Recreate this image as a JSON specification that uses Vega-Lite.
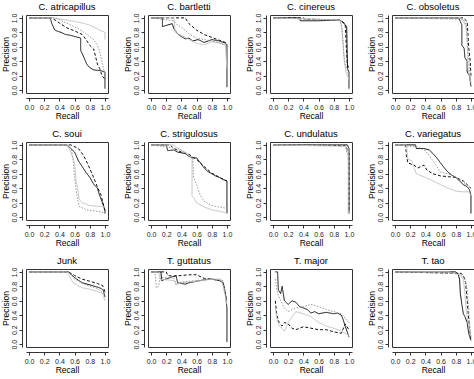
{
"$schema": "https://vega.github.io/schema/vega-lite/v6.json",
"padding": {"left": 0, "top": 1, "right": 0, "bottom": 0},
"background": "white",
"data": {"values": [
{"p":"C. atricapillus","s":"k2","r":0,"y":1},{"p":"C. atricapillus","s":"k2","r":0.28,"y":1},{"p":"C. atricapillus","s":"k2","r":0.3,"y":0.92},{"p":"C. atricapillus","s":"k2","r":0.34,"y":0.83},{"p":"C. atricapillus","s":"k2","r":0.39,"y":0.81},{"p":"C. atricapillus","s":"k2","r":0.42,"y":0.8},{"p":"C. atricapillus","s":"k2","r":0.48,"y":0.77},{"p":"C. atricapillus","s":"k2","r":0.54,"y":0.76},{"p":"C. atricapillus","s":"k2","r":0.61,"y":0.74},{"p":"C. atricapillus","s":"k2","r":0.68,"y":0.72},{"p":"C. atricapillus","s":"k2","r":0.68,"y":0.55},{"p":"C. atricapillus","s":"k2","r":0.72,"y":0.46},{"p":"C. atricapillus","s":"k2","r":0.76,"y":0.36},{"p":"C. atricapillus","s":"k2","r":0.79,"y":0.32},{"p":"C. atricapillus","s":"k2","r":0.85,"y":0.28},{"p":"C. atricapillus","s":"k2","r":0.94,"y":0.27},{"p":"C. atricapillus","s":"k2","r":1,"y":0.25},{"p":"C. atricapillus","s":"k2","r":1,"y":0.02},
{"p":"C. atricapillus","s":"k1","r":0,"y":1},{"p":"C. atricapillus","s":"k1","r":0.3,"y":1},{"p":"C. atricapillus","s":"k1","r":0.4,"y":0.93},{"p":"C. atricapillus","s":"k1","r":0.5,"y":0.86},{"p":"C. atricapillus","s":"k1","r":0.6,"y":0.82},{"p":"C. atricapillus","s":"k1","r":0.7,"y":0.77},{"p":"C. atricapillus","s":"k1","r":0.75,"y":0.7},{"p":"C. atricapillus","s":"k1","r":0.8,"y":0.62},{"p":"C. atricapillus","s":"k1","r":0.85,"y":0.57},{"p":"C. atricapillus","s":"k1","r":0.88,"y":0.45},{"p":"C. atricapillus","s":"k1","r":0.9,"y":0.36},{"p":"C. atricapillus","s":"k1","r":0.93,"y":0.3},{"p":"C. atricapillus","s":"k1","r":0.96,"y":0.2},{"p":"C. atricapillus","s":"k1","r":1,"y":0.15},
{"p":"C. atricapillus","s":"g1","r":0,"y":1},{"p":"C. atricapillus","s":"g1","r":0.3,"y":1},{"p":"C. atricapillus","s":"g1","r":0.5,"y":0.97},{"p":"C. atricapillus","s":"g1","r":0.6,"y":0.95},{"p":"C. atricapillus","s":"g1","r":0.7,"y":0.93},{"p":"C. atricapillus","s":"g1","r":0.8,"y":0.9},{"p":"C. atricapillus","s":"g1","r":0.9,"y":0.85},{"p":"C. atricapillus","s":"g1","r":0.95,"y":0.82},{"p":"C. atricapillus","s":"g1","r":1,"y":0.8},{"p":"C. atricapillus","s":"g1","r":1,"y":0.7},
{"p":"C. atricapillus","s":"g2","r":0,"y":1},{"p":"C. atricapillus","s":"g2","r":0.35,"y":1},{"p":"C. atricapillus","s":"g2","r":0.45,"y":0.95},{"p":"C. atricapillus","s":"g2","r":0.55,"y":0.9},{"p":"C. atricapillus","s":"g2","r":0.65,"y":0.85},{"p":"C. atricapillus","s":"g2","r":0.72,"y":0.8},{"p":"C. atricapillus","s":"g2","r":0.8,"y":0.74},{"p":"C. atricapillus","s":"g2","r":0.85,"y":0.7},{"p":"C. atricapillus","s":"g2","r":0.9,"y":0.62},{"p":"C. atricapillus","s":"g2","r":0.94,"y":0.5},{"p":"C. atricapillus","s":"g2","r":0.97,"y":0.35},{"p":"C. atricapillus","s":"g2","r":1,"y":0.2},

{"p":"C. bartletti","s":"k2","r":0,"y":1},{"p":"C. bartletti","s":"k2","r":0.15,"y":1},{"p":"C. bartletti","s":"k2","r":0.15,"y":0.88},{"p":"C. bartletti","s":"k2","r":0.28,"y":0.92},{"p":"C. bartletti","s":"k2","r":0.3,"y":0.85},{"p":"C. bartletti","s":"k2","r":0.35,"y":0.78},{"p":"C. bartletti","s":"k2","r":0.4,"y":0.74},{"p":"C. bartletti","s":"k2","r":0.45,"y":0.71},{"p":"C. bartletti","s":"k2","r":0.5,"y":0.72},{"p":"C. bartletti","s":"k2","r":0.55,"y":0.68},{"p":"C. bartletti","s":"k2","r":0.62,"y":0.7},{"p":"C. bartletti","s":"k2","r":0.7,"y":0.66},{"p":"C. bartletti","s":"k2","r":0.8,"y":0.7},{"p":"C. bartletti","s":"k2","r":0.9,"y":0.68},{"p":"C. bartletti","s":"k2","r":0.98,"y":0.65},{"p":"C. bartletti","s":"k2","r":1,"y":0.63},{"p":"C. bartletti","s":"k2","r":1,"y":0.04},
{"p":"C. bartletti","s":"k1","r":0,"y":1},{"p":"C. bartletti","s":"k1","r":0.45,"y":1},{"p":"C. bartletti","s":"k1","r":0.5,"y":0.92},{"p":"C. bartletti","s":"k1","r":0.6,"y":0.83},{"p":"C. bartletti","s":"k1","r":0.7,"y":0.77},{"p":"C. bartletti","s":"k1","r":0.8,"y":0.73},{"p":"C. bartletti","s":"k1","r":0.9,"y":0.69},{"p":"C. bartletti","s":"k1","r":0.98,"y":0.66},{"p":"C. bartletti","s":"k1","r":1,"y":0.64},
{"p":"C. bartletti","s":"g1","r":0,"y":1},{"p":"C. bartletti","s":"g1","r":0.3,"y":1},{"p":"C. bartletti","s":"g1","r":0.32,"y":0.8},{"p":"C. bartletti","s":"g1","r":0.4,"y":0.76},{"p":"C. bartletti","s":"g1","r":0.5,"y":0.7},{"p":"C. bartletti","s":"g1","r":0.6,"y":0.65},{"p":"C. bartletti","s":"g1","r":0.7,"y":0.63},{"p":"C. bartletti","s":"g1","r":0.8,"y":0.67},{"p":"C. bartletti","s":"g1","r":0.9,"y":0.66},{"p":"C. bartletti","s":"g1","r":0.98,"y":0.62},{"p":"C. bartletti","s":"g1","r":1,"y":0.3},
{"p":"C. bartletti","s":"g2","r":0,"y":1},{"p":"C. bartletti","s":"g2","r":0.3,"y":0.96},{"p":"C. bartletti","s":"g2","r":0.35,"y":0.9},{"p":"C. bartletti","s":"g2","r":0.4,"y":0.87},{"p":"C. bartletti","s":"g2","r":0.5,"y":0.78},{"p":"C. bartletti","s":"g2","r":0.6,"y":0.72},{"p":"C. bartletti","s":"g2","r":0.7,"y":0.7},{"p":"C. bartletti","s":"g2","r":0.8,"y":0.68},{"p":"C. bartletti","s":"g2","r":0.9,"y":0.65},{"p":"C. bartletti","s":"g2","r":1,"y":0.62},

{"p":"C. cinereus","s":"k2","r":0,"y":1},{"p":"C. cinereus","s":"k2","r":0.35,"y":1},{"p":"C. cinereus","s":"k2","r":0.36,"y":0.96},{"p":"C. cinereus","s":"k2","r":0.6,"y":0.96},{"p":"C. cinereus","s":"k2","r":0.88,"y":0.97},{"p":"C. cinereus","s":"k2","r":0.93,"y":0.93},{"p":"C. cinereus","s":"k2","r":0.97,"y":0.88},{"p":"C. cinereus","s":"k2","r":0.98,"y":0.3},{"p":"C. cinereus","s":"k2","r":1,"y":0.25},{"p":"C. cinereus","s":"k2","r":1,"y":0.02},
{"p":"C. cinereus","s":"k1","r":0,"y":1},{"p":"C. cinereus","s":"k1","r":0.4,"y":1},{"p":"C. cinereus","s":"k1","r":0.42,"y":0.98},{"p":"C. cinereus","s":"k1","r":0.55,"y":0.98},{"p":"C. cinereus","s":"k1","r":0.88,"y":0.97},{"p":"C. cinereus","s":"k1","r":0.95,"y":0.92},{"p":"C. cinereus","s":"k1","r":0.97,"y":0.5},{"p":"C. cinereus","s":"k1","r":0.98,"y":0.35},{"p":"C. cinereus","s":"k1","r":1,"y":0.3},
{"p":"C. cinereus","s":"g1","r":0,"y":1},{"p":"C. cinereus","s":"g1","r":0.88,"y":0.97},{"p":"C. cinereus","s":"g1","r":0.9,"y":0.9},{"p":"C. cinereus","s":"g1","r":0.92,"y":0.7},{"p":"C. cinereus","s":"g1","r":0.94,"y":0.4},{"p":"C. cinereus","s":"g1","r":0.96,"y":0.25},{"p":"C. cinereus","s":"g1","r":1,"y":0.15},
{"p":"C. cinereus","s":"g2","r":0,"y":1},{"p":"C. cinereus","s":"g2","r":0.88,"y":0.97},{"p":"C. cinereus","s":"g2","r":0.91,"y":0.85},{"p":"C. cinereus","s":"g2","r":0.93,"y":0.5},{"p":"C. cinereus","s":"g2","r":0.95,"y":0.35},{"p":"C. cinereus","s":"g2","r":0.97,"y":0.3},{"p":"C. cinereus","s":"g2","r":1,"y":0.2},

{"p":"C. obsoletus","s":"k2","r":0,"y":1},{"p":"C. obsoletus","s":"k2","r":0.84,"y":1},{"p":"C. obsoletus","s":"k2","r":0.86,"y":0.95},{"p":"C. obsoletus","s":"k2","r":0.88,"y":0.9},{"p":"C. obsoletus","s":"k2","r":0.88,"y":0.62},{"p":"C. obsoletus","s":"k2","r":0.91,"y":0.58},{"p":"C. obsoletus","s":"k2","r":0.92,"y":0.45},{"p":"C. obsoletus","s":"k2","r":0.95,"y":0.4},{"p":"C. obsoletus","s":"k2","r":0.95,"y":0.25},{"p":"C. obsoletus","s":"k2","r":0.98,"y":0.2},{"p":"C. obsoletus","s":"k2","r":1,"y":0.05},
{"p":"C. obsoletus","s":"k1","r":0,"y":1},{"p":"C. obsoletus","s":"k1","r":0.9,"y":1},{"p":"C. obsoletus","s":"k1","r":0.95,"y":0.95},{"p":"C. obsoletus","s":"k1","r":0.97,"y":0.6},{"p":"C. obsoletus","s":"k1","r":0.99,"y":0.4},{"p":"C. obsoletus","s":"k1","r":1,"y":0.2},
{"p":"C. obsoletus","s":"g1","r":0,"y":1},{"p":"C. obsoletus","s":"g1","r":0.87,"y":1},{"p":"C. obsoletus","s":"g1","r":0.93,"y":0.9},{"p":"C. obsoletus","s":"g1","r":0.95,"y":0.7},{"p":"C. obsoletus","s":"g1","r":0.96,"y":0.3},{"p":"C. obsoletus","s":"g1","r":0.98,"y":0.2},{"p":"C. obsoletus","s":"g1","r":1,"y":0.1},
{"p":"C. obsoletus","s":"g2","r":0,"y":1},{"p":"C. obsoletus","s":"g2","r":0.9,"y":0.98},{"p":"C. obsoletus","s":"g2","r":0.94,"y":0.9},{"p":"C. obsoletus","s":"g2","r":0.96,"y":0.55},{"p":"C. obsoletus","s":"g2","r":0.98,"y":0.3},{"p":"C. obsoletus","s":"g2","r":1,"y":0.1},

{"p":"C. soui","s":"k2","r":0,"y":1},{"p":"C. soui","s":"k2","r":0.5,"y":1},{"p":"C. soui","s":"k2","r":0.55,"y":0.95},{"p":"C. soui","s":"k2","r":0.6,"y":0.9},{"p":"C. soui","s":"k2","r":0.65,"y":0.78},{"p":"C. soui","s":"k2","r":0.7,"y":0.7},{"p":"C. soui","s":"k2","r":0.75,"y":0.62},{"p":"C. soui","s":"k2","r":0.8,"y":0.55},{"p":"C. soui","s":"k2","r":0.85,"y":0.46},{"p":"C. soui","s":"k2","r":0.9,"y":0.4},{"p":"C. soui","s":"k2","r":0.93,"y":0.3},{"p":"C. soui","s":"k2","r":0.96,"y":0.22},{"p":"C. soui","s":"k2","r":1,"y":0.1},{"p":"C. soui","s":"k2","r":1,"y":0.05},
{"p":"C. soui","s":"k1","r":0,"y":1},{"p":"C. soui","s":"k1","r":0.55,"y":1},{"p":"C. soui","s":"k1","r":0.65,"y":0.95},{"p":"C. soui","s":"k1","r":0.72,"y":0.85},{"p":"C. soui","s":"k1","r":0.78,"y":0.72},{"p":"C. soui","s":"k1","r":0.85,"y":0.55},{"p":"C. soui","s":"k1","r":0.9,"y":0.42},{"p":"C. soui","s":"k1","r":0.95,"y":0.3},{"p":"C. soui","s":"k1","r":1,"y":0.08},
{"p":"C. soui","s":"g1","r":0,"y":1},{"p":"C. soui","s":"g1","r":0.5,"y":1},{"p":"C. soui","s":"g1","r":0.55,"y":0.9},{"p":"C. soui","s":"g1","r":0.6,"y":0.75},{"p":"C. soui","s":"g1","r":0.62,"y":0.5},{"p":"C. soui","s":"g1","r":0.64,"y":0.4},{"p":"C. soui","s":"g1","r":0.66,"y":0.25},{"p":"C. soui","s":"g1","r":0.7,"y":0.2},{"p":"C. soui","s":"g1","r":0.8,"y":0.16},{"p":"C. soui","s":"g1","r":0.9,"y":0.15},{"p":"C. soui","s":"g1","r":1,"y":0.14},
{"p":"C. soui","s":"g2","r":0,"y":1},{"p":"C. soui","s":"g2","r":0.52,"y":1},{"p":"C. soui","s":"g2","r":0.56,"y":0.92},{"p":"C. soui","s":"g2","r":0.58,"y":0.8},{"p":"C. soui","s":"g2","r":0.6,"y":0.55},{"p":"C. soui","s":"g2","r":0.63,"y":0.3},{"p":"C. soui","s":"g2","r":0.66,"y":0.15},{"p":"C. soui","s":"g2","r":0.75,"y":0.1},{"p":"C. soui","s":"g2","r":0.9,"y":0.08},{"p":"C. soui","s":"g2","r":1,"y":0.06},

{"p":"C. strigulosus","s":"k2","r":0,"y":1},{"p":"C. strigulosus","s":"k2","r":0.2,"y":1},{"p":"C. strigulosus","s":"k2","r":0.22,"y":0.92},{"p":"C. strigulosus","s":"k2","r":0.3,"y":0.93},{"p":"C. strigulosus","s":"k2","r":0.35,"y":0.9},{"p":"C. strigulosus","s":"k2","r":0.45,"y":0.88},{"p":"C. strigulosus","s":"k2","r":0.5,"y":0.84},{"p":"C. strigulosus","s":"k2","r":0.55,"y":0.82},{"p":"C. strigulosus","s":"k2","r":0.6,"y":0.82},{"p":"C. strigulosus","s":"k2","r":0.65,"y":0.75},{"p":"C. strigulosus","s":"k2","r":0.7,"y":0.68},{"p":"C. strigulosus","s":"k2","r":0.75,"y":0.63},{"p":"C. strigulosus","s":"k2","r":0.8,"y":0.6},{"p":"C. strigulosus","s":"k2","r":0.85,"y":0.57},{"p":"C. strigulosus","s":"k2","r":0.9,"y":0.55},{"p":"C. strigulosus","s":"k2","r":0.95,"y":0.52},{"p":"C. strigulosus","s":"k2","r":1,"y":0.5},{"p":"C. strigulosus","s":"k2","r":1,"y":0.05},
{"p":"C. strigulosus","s":"k1","r":0,"y":1},{"p":"C. strigulosus","s":"k1","r":0.25,"y":1},{"p":"C. strigulosus","s":"k1","r":0.3,"y":0.95},{"p":"C. strigulosus","s":"k1","r":0.4,"y":0.9},{"p":"C. strigulosus","s":"k1","r":0.5,"y":0.87},{"p":"C. strigulosus","s":"k1","r":0.55,"y":0.83},{"p":"C. strigulosus","s":"k1","r":0.6,"y":0.8},{"p":"C. strigulosus","s":"k1","r":0.7,"y":0.7},{"p":"C. strigulosus","s":"k1","r":0.8,"y":0.61},{"p":"C. strigulosus","s":"k1","r":0.9,"y":0.55},{"p":"C. strigulosus","s":"k1","r":1,"y":0.5},
{"p":"C. strigulosus","s":"g1","r":0,"y":1},{"p":"C. strigulosus","s":"g1","r":0.3,"y":1},{"p":"C. strigulosus","s":"g1","r":0.4,"y":0.92},{"p":"C. strigulosus","s":"g1","r":0.5,"y":0.86},{"p":"C. strigulosus","s":"g1","r":0.54,"y":0.8},{"p":"C. strigulosus","s":"g1","r":0.54,"y":0.3},{"p":"C. strigulosus","s":"g1","r":0.6,"y":0.2},{"p":"C. strigulosus","s":"g1","r":0.7,"y":0.14},{"p":"C. strigulosus","s":"g1","r":0.8,"y":0.1},{"p":"C. strigulosus","s":"g1","r":0.9,"y":0.08},{"p":"C. strigulosus","s":"g1","r":1,"y":0.06},
{"p":"C. strigulosus","s":"g2","r":0,"y":1},{"p":"C. strigulosus","s":"g2","r":0.35,"y":0.95},{"p":"C. strigulosus","s":"g2","r":0.45,"y":0.9},{"p":"C. strigulosus","s":"g2","r":0.55,"y":0.82},{"p":"C. strigulosus","s":"g2","r":0.56,"y":0.55},{"p":"C. strigulosus","s":"g2","r":0.6,"y":0.45},{"p":"C. strigulosus","s":"g2","r":0.65,"y":0.3},{"p":"C. strigulosus","s":"g2","r":0.7,"y":0.22},{"p":"C. strigulosus","s":"g2","r":0.8,"y":0.16},{"p":"C. strigulosus","s":"g2","r":0.9,"y":0.14},{"p":"C. strigulosus","s":"g2","r":1,"y":0.12},

{"p":"C. undulatus","s":"k2","r":0,"y":1},{"p":"C. undulatus","s":"k2","r":0.98,"y":1},{"p":"C. undulatus","s":"k2","r":1,"y":0.95},{"p":"C. undulatus","s":"k2","r":1,"y":0.05},
{"p":"C. undulatus","s":"k1","r":0,"y":1},{"p":"C. undulatus","s":"k1","r":0.96,"y":0.99},{"p":"C. undulatus","s":"k1","r":0.98,"y":0.92},{"p":"C. undulatus","s":"k1","r":1,"y":0.88},{"p":"C. undulatus","s":"k1","r":1,"y":0.1},
{"p":"C. undulatus","s":"g1","r":0,"y":1},{"p":"C. undulatus","s":"g1","r":0.97,"y":0.98},{"p":"C. undulatus","s":"g1","r":0.99,"y":0.9},{"p":"C. undulatus","s":"g1","r":0.99,"y":0.05},
{"p":"C. undulatus","s":"g2","r":0,"y":1},{"p":"C. undulatus","s":"g2","r":0.95,"y":1},{"p":"C. undulatus","s":"g2","r":0.97,"y":0.9},{"p":"C. undulatus","s":"g2","r":0.99,"y":0.85},{"p":"C. undulatus","s":"g2","r":1,"y":0.6},

{"p":"C. variegatus","s":"k2","r":0,"y":1},{"p":"C. variegatus","s":"k2","r":0.27,"y":1},{"p":"C. variegatus","s":"k2","r":0.28,"y":0.95},{"p":"C. variegatus","s":"k2","r":0.38,"y":0.95},{"p":"C. variegatus","s":"k2","r":0.45,"y":0.93},{"p":"C. variegatus","s":"k2","r":0.5,"y":0.88},{"p":"C. variegatus","s":"k2","r":0.55,"y":0.82},{"p":"C. variegatus","s":"k2","r":0.6,"y":0.75},{"p":"C. variegatus","s":"k2","r":0.65,"y":0.68},{"p":"C. variegatus","s":"k2","r":0.7,"y":0.62},{"p":"C. variegatus","s":"k2","r":0.75,"y":0.58},{"p":"C. variegatus","s":"k2","r":0.8,"y":0.55},{"p":"C. variegatus","s":"k2","r":0.85,"y":0.5},{"p":"C. variegatus","s":"k2","r":0.9,"y":0.45},{"p":"C. variegatus","s":"k2","r":0.95,"y":0.42},{"p":"C. variegatus","s":"k2","r":0.98,"y":0.38},{"p":"C. variegatus","s":"k2","r":1,"y":0.3},{"p":"C. variegatus","s":"k2","r":1,"y":0.05},
{"p":"C. variegatus","s":"k1","r":0,"y":1},{"p":"C. variegatus","s":"k1","r":0.14,"y":1},{"p":"C. variegatus","s":"k1","r":0.15,"y":0.85},{"p":"C. variegatus","s":"k1","r":0.17,"y":0.75},{"p":"C. variegatus","s":"k1","r":0.25,"y":0.72},{"p":"C. variegatus","s":"k1","r":0.3,"y":0.68},{"p":"C. variegatus","s":"k1","r":0.38,"y":0.72},{"p":"C. variegatus","s":"k1","r":0.42,"y":0.65},{"p":"C. variegatus","s":"k1","r":0.5,"y":0.6},{"p":"C. variegatus","s":"k1","r":0.6,"y":0.57},{"p":"C. variegatus","s":"k1","r":0.7,"y":0.56},{"p":"C. variegatus","s":"k1","r":0.8,"y":0.55},{"p":"C. variegatus","s":"k1","r":0.9,"y":0.5},{"p":"C. variegatus","s":"k1","r":0.95,"y":0.45},{"p":"C. variegatus","s":"k1","r":1,"y":0.4},
{"p":"C. variegatus","s":"g1","r":0,"y":1},{"p":"C. variegatus","s":"g1","r":0.15,"y":1},{"p":"C. variegatus","s":"g1","r":0.17,"y":0.8},{"p":"C. variegatus","s":"g1","r":0.22,"y":0.78},{"p":"C. variegatus","s":"g1","r":0.28,"y":0.6},{"p":"C. variegatus","s":"g1","r":0.4,"y":0.55},{"p":"C. variegatus","s":"g1","r":0.5,"y":0.5},{"p":"C. variegatus","s":"g1","r":0.6,"y":0.45},{"p":"C. variegatus","s":"g1","r":0.7,"y":0.4},{"p":"C. variegatus","s":"g1","r":0.8,"y":0.36},{"p":"C. variegatus","s":"g1","r":0.9,"y":0.35},{"p":"C. variegatus","s":"g1","r":0.97,"y":0.35},{"p":"C. variegatus","s":"g1","r":1,"y":0.3},
{"p":"C. variegatus","s":"g2","r":0,"y":1},{"p":"C. variegatus","s":"g2","r":0.3,"y":0.97},{"p":"C. variegatus","s":"g2","r":0.4,"y":0.92},{"p":"C. variegatus","s":"g2","r":0.45,"y":0.85},{"p":"C. variegatus","s":"g2","r":0.5,"y":0.78},{"p":"C. variegatus","s":"g2","r":0.55,"y":0.7},{"p":"C. variegatus","s":"g2","r":0.6,"y":0.62},{"p":"C. variegatus","s":"g2","r":0.7,"y":0.6},{"p":"C. variegatus","s":"g2","r":0.8,"y":0.55},{"p":"C. variegatus","s":"g2","r":0.9,"y":0.48},{"p":"C. variegatus","s":"g2","r":1,"y":0.4},

{"p":"Junk","s":"k2","r":0,"y":1},{"p":"Junk","s":"k2","r":0.52,"y":1},{"p":"Junk","s":"k2","r":0.6,"y":0.92},{"p":"Junk","s":"k2","r":0.7,"y":0.85},{"p":"Junk","s":"k2","r":0.8,"y":0.82},{"p":"Junk","s":"k2","r":0.9,"y":0.79},{"p":"Junk","s":"k2","r":0.95,"y":0.77},{"p":"Junk","s":"k2","r":0.98,"y":0.74},{"p":"Junk","s":"k2","r":1,"y":0.65},
{"p":"Junk","s":"k1","r":0,"y":1},{"p":"Junk","s":"k1","r":0.52,"y":1},{"p":"Junk","s":"k1","r":0.6,"y":0.95},{"p":"Junk","s":"k1","r":0.7,"y":0.9},{"p":"Junk","s":"k1","r":0.8,"y":0.87},{"p":"Junk","s":"k1","r":0.9,"y":0.84},{"p":"Junk","s":"k1","r":0.97,"y":0.81},{"p":"Junk","s":"k1","r":1,"y":0.72},
{"p":"Junk","s":"g1","r":0,"y":1},{"p":"Junk","s":"g1","r":0.5,"y":1},{"p":"Junk","s":"g1","r":0.58,"y":0.85},{"p":"Junk","s":"g1","r":0.7,"y":0.78},{"p":"Junk","s":"g1","r":0.8,"y":0.76},{"p":"Junk","s":"g1","r":0.9,"y":0.73},{"p":"Junk","s":"g1","r":0.97,"y":0.7},{"p":"Junk","s":"g1","r":1,"y":0.6},
{"p":"Junk","s":"g2","r":0,"y":1},{"p":"Junk","s":"g2","r":0.52,"y":1},{"p":"Junk","s":"g2","r":0.6,"y":0.9},{"p":"Junk","s":"g2","r":0.7,"y":0.84},{"p":"Junk","s":"g2","r":0.8,"y":0.8},{"p":"Junk","s":"g2","r":0.9,"y":0.77},{"p":"Junk","s":"g2","r":1,"y":0.68},

{"p":"T. guttatus","s":"k2","r":0,"y":1},{"p":"T. guttatus","s":"k2","r":0.13,"y":1},{"p":"T. guttatus","s":"k2","r":0.14,"y":0.88},{"p":"T. guttatus","s":"k2","r":0.25,"y":0.92},{"p":"T. guttatus","s":"k2","r":0.33,"y":0.95},{"p":"T. guttatus","s":"k2","r":0.35,"y":0.85},{"p":"T. guttatus","s":"k2","r":0.45,"y":0.83},{"p":"T. guttatus","s":"k2","r":0.5,"y":0.85},{"p":"T. guttatus","s":"k2","r":0.6,"y":0.87},{"p":"T. guttatus","s":"k2","r":0.7,"y":0.89},{"p":"T. guttatus","s":"k2","r":0.8,"y":0.9},{"p":"T. guttatus","s":"k2","r":0.9,"y":0.88},{"p":"T. guttatus","s":"k2","r":0.95,"y":0.85},{"p":"T. guttatus","s":"k2","r":0.98,"y":0.7},{"p":"T. guttatus","s":"k2","r":1,"y":0.5},{"p":"T. guttatus","s":"k2","r":1,"y":0.03},
{"p":"T. guttatus","s":"k1","r":0,"y":1},{"p":"T. guttatus","s":"k1","r":0.2,"y":1},{"p":"T. guttatus","s":"k1","r":0.22,"y":0.95},{"p":"T. guttatus","s":"k1","r":0.3,"y":0.94},{"p":"T. guttatus","s":"k1","r":0.4,"y":0.95},{"p":"T. guttatus","s":"k1","r":0.5,"y":0.96},{"p":"T. guttatus","s":"k1","r":0.6,"y":0.96},{"p":"T. guttatus","s":"k1","r":0.7,"y":0.91},{"p":"T. guttatus","s":"k1","r":0.8,"y":0.9},{"p":"T. guttatus","s":"k1","r":0.9,"y":0.88},{"p":"T. guttatus","s":"k1","r":0.95,"y":0.85},{"p":"T. guttatus","s":"k1","r":1,"y":0.6},
{"p":"T. guttatus","s":"g1","r":0,"y":1},{"p":"T. guttatus","s":"g1","r":0.1,"y":1},{"p":"T. guttatus","s":"g1","r":0.12,"y":0.9},{"p":"T. guttatus","s":"g1","r":0.3,"y":0.88},{"p":"T. guttatus","s":"g1","r":0.33,"y":0.83},{"p":"T. guttatus","s":"g1","r":0.4,"y":0.85},{"p":"T. guttatus","s":"g1","r":0.6,"y":0.87},{"p":"T. guttatus","s":"g1","r":0.8,"y":0.9},{"p":"T. guttatus","s":"g1","r":0.92,"y":0.9},{"p":"T. guttatus","s":"g1","r":0.95,"y":0.8},{"p":"T. guttatus","s":"g1","r":1,"y":0.55},
{"p":"T. guttatus","s":"g2","r":0,"y":1},{"p":"T. guttatus","s":"g2","r":0.05,"y":1},{"p":"T. guttatus","s":"g2","r":0.07,"y":0.78},{"p":"T. guttatus","s":"g2","r":0.1,"y":0.8},{"p":"T. guttatus","s":"g2","r":0.12,"y":0.92},{"p":"T. guttatus","s":"g2","r":0.3,"y":0.92},{"p":"T. guttatus","s":"g2","r":0.33,"y":0.82},{"p":"T. guttatus","s":"g2","r":0.4,"y":0.86},{"p":"T. guttatus","s":"g2","r":0.6,"y":0.88},{"p":"T. guttatus","s":"g2","r":0.8,"y":0.9},{"p":"T. guttatus","s":"g2","r":0.95,"y":0.88},{"p":"T. guttatus","s":"g2","r":1,"y":0.6},

{"p":"T. major","s":"k2","r":0.03,"y":1},{"p":"T. major","s":"k2","r":0.06,"y":1},{"p":"T. major","s":"k2","r":0.07,"y":0.75},{"p":"T. major","s":"k2","r":0.1,"y":0.7},{"p":"T. major","s":"k2","r":0.12,"y":0.8},{"p":"T. major","s":"k2","r":0.15,"y":0.6},{"p":"T. major","s":"k2","r":0.2,"y":0.55},{"p":"T. major","s":"k2","r":0.25,"y":0.6},{"p":"T. major","s":"k2","r":0.3,"y":0.58},{"p":"T. major","s":"k2","r":0.35,"y":0.52},{"p":"T. major","s":"k2","r":0.4,"y":0.5},{"p":"T. major","s":"k2","r":0.45,"y":0.48},{"p":"T. major","s":"k2","r":0.5,"y":0.43},{"p":"T. major","s":"k2","r":0.55,"y":0.45},{"p":"T. major","s":"k2","r":0.6,"y":0.42},{"p":"T. major","s":"k2","r":0.7,"y":0.44},{"p":"T. major","s":"k2","r":0.8,"y":0.42},{"p":"T. major","s":"k2","r":0.85,"y":0.43},{"p":"T. major","s":"k2","r":0.9,"y":0.4},{"p":"T. major","s":"k2","r":0.92,"y":0.35},{"p":"T. major","s":"k2","r":0.95,"y":0.25},{"p":"T. major","s":"k2","r":1,"y":0.1},
{"p":"T. major","s":"k1","r":0.03,"y":0.6},{"p":"T. major","s":"k1","r":0.05,"y":0.4},{"p":"T. major","s":"k1","r":0.08,"y":0.3},{"p":"T. major","s":"k1","r":0.12,"y":0.25},{"p":"T. major","s":"k1","r":0.15,"y":0.3},{"p":"T. major","s":"k1","r":0.2,"y":0.28},{"p":"T. major","s":"k1","r":0.25,"y":0.22},{"p":"T. major","s":"k1","r":0.3,"y":0.2},{"p":"T. major","s":"k1","r":0.4,"y":0.24},{"p":"T. major","s":"k1","r":0.5,"y":0.22},{"p":"T. major","s":"k1","r":0.6,"y":0.2},{"p":"T. major","s":"k1","r":0.7,"y":0.2},{"p":"T. major","s":"k1","r":0.8,"y":0.17},{"p":"T. major","s":"k1","r":0.9,"y":0.15},{"p":"T. major","s":"k1","r":0.95,"y":0.28},{"p":"T. major","s":"k1","r":1,"y":0.2},
{"p":"T. major","s":"g1","r":0.03,"y":0.5},{"p":"T. major","s":"g1","r":0.05,"y":0.35},{"p":"T. major","s":"g1","r":0.08,"y":0.25},{"p":"T. major","s":"g1","r":0.12,"y":0.22},{"p":"T. major","s":"g1","r":0.15,"y":0.18},{"p":"T. major","s":"g1","r":0.2,"y":0.3},{"p":"T. major","s":"g1","r":0.3,"y":0.45},{"p":"T. major","s":"g1","r":0.4,"y":0.42},{"p":"T. major","s":"g1","r":0.5,"y":0.38},{"p":"T. major","s":"g1","r":0.6,"y":0.3},{"p":"T. major","s":"g1","r":0.7,"y":0.25},{"p":"T. major","s":"g1","r":0.8,"y":0.22},{"p":"T. major","s":"g1","r":0.9,"y":0.18},{"p":"T. major","s":"g1","r":1,"y":0.12},
{"p":"T. major","s":"g2","r":0.03,"y":0.9},{"p":"T. major","s":"g2","r":0.06,"y":0.7},{"p":"T. major","s":"g2","r":0.1,"y":0.6},{"p":"T. major","s":"g2","r":0.15,"y":0.5},{"p":"T. major","s":"g2","r":0.2,"y":0.45},{"p":"T. major","s":"g2","r":0.3,"y":0.5},{"p":"T. major","s":"g2","r":0.4,"y":0.52},{"p":"T. major","s":"g2","r":0.5,"y":0.55},{"p":"T. major","s":"g2","r":0.6,"y":0.52},{"p":"T. major","s":"g2","r":0.7,"y":0.48},{"p":"T. major","s":"g2","r":0.8,"y":0.45},{"p":"T. major","s":"g2","r":0.9,"y":0.42},{"p":"T. major","s":"g2","r":1,"y":0.3},

{"p":"T. tao","s":"k2","r":0,"y":1},{"p":"T. tao","s":"k2","r":0.8,"y":1},{"p":"T. tao","s":"k2","r":0.83,"y":0.97},{"p":"T. tao","s":"k2","r":0.85,"y":0.9},{"p":"T. tao","s":"k2","r":0.86,"y":0.7},{"p":"T. tao","s":"k2","r":0.88,"y":0.55},{"p":"T. tao","s":"k2","r":0.9,"y":0.42},{"p":"T. tao","s":"k2","r":0.92,"y":0.38},{"p":"T. tao","s":"k2","r":0.95,"y":0.3},{"p":"T. tao","s":"k2","r":0.97,"y":0.15},{"p":"T. tao","s":"k2","r":1,"y":0.05},
{"p":"T. tao","s":"k1","r":0,"y":1},{"p":"T. tao","s":"k1","r":0.87,"y":0.98},{"p":"T. tao","s":"k1","r":0.9,"y":0.95},{"p":"T. tao","s":"k1","r":0.93,"y":0.85},{"p":"T. tao","s":"k1","r":0.95,"y":0.6},{"p":"T. tao","s":"k1","r":0.97,"y":0.35},{"p":"T. tao","s":"k1","r":0.98,"y":0.2},{"p":"T. tao","s":"k1","r":1,"y":0.05},
{"p":"T. tao","s":"g1","r":0,"y":1},{"p":"T. tao","s":"g1","r":0.72,"y":1},{"p":"T. tao","s":"g1","r":0.75,"y":0.98},{"p":"T. tao","s":"g1","r":0.85,"y":0.96},{"p":"T. tao","s":"g1","r":0.9,"y":0.9},{"p":"T. tao","s":"g1","r":0.92,"y":0.7},{"p":"T. tao","s":"g1","r":0.94,"y":0.45},{"p":"T. tao","s":"g1","r":0.96,"y":0.3},{"p":"T. tao","s":"g1","r":1,"y":0.1},
{"p":"T. tao","s":"g2","r":0,"y":1},{"p":"T. tao","s":"g2","r":0.85,"y":0.98},{"p":"T. tao","s":"g2","r":0.92,"y":0.9},{"p":"T. tao","s":"g2","r":0.95,"y":0.75},{"p":"T. tao","s":"g2","r":0.97,"y":0.5},{"p":"T. tao","s":"g2","r":0.98,"y":0.3},{"p":"T. tao","s":"g2","r":1,"y":0.1}
]},
"facet": {"field": "p", "type": "nominal", "title": null,
  "sort": ["C. atricapillus","C. bartletti","C. cinereus","C. obsoletus","C. soui","C. strigulosus","C. undulatus","C. variegatus","Junk","T. guttatus","T. major","T. tao"],
  "header": {"labelFont": "Liberation Sans", "labelFontSize": 9.5, "labelColor": "#000", "labelPadding": 2}},
"columns": 4,
"bounds": "flush",
"spacing": {"column": 40, "row": 49},
"resolve": {"axis": {"x": "independent", "y": "independent"}},
"spec": {
  "width": 82, "height": 78,
  "mark": {"type": "line", "strokeWidth": 1, "clip": true},
  "encoding": {
    "x": {"field": "r", "type": "quantitative", "title": "Recall",
      "scale": {"domain": [-0.04, 1.04], "nice": false, "zero": false},
      "axis": {"values": [0, 0.2, 0.4, 0.6, 0.8, 1], "format": ".1f", "offset": 5}},
    "y": {"field": "y", "type": "quantitative", "title": "Precision",
      "scale": {"domain": [-0.04, 1.04], "nice": false, "zero": false},
      "axis": {"values": [0, 0.2, 0.4, 0.6, 0.8, 1], "format": ".1f", "offset": 4, "labelAngle": 270, "labelAlign": "center", "labelBaseline": "bottom", "titlePadding": 0}},
    "color": {"field": "s", "type": "nominal", "legend": null,
      "scale": {"domain": ["g1", "g2", "k1", "k2"], "range": ["#c4c4c4", "#9a9a9a", "#111111", "#111111"]}},
    "strokeDash": {"field": "s", "type": "nominal", "legend": null,
      "scale": {"domain": ["g1", "g2", "k1", "k2"], "range": [[1, 0], [1.5, 1.5], [3, 2], [1, 0]]}}
  }
},
"config": {
  "font": "Liberation Sans",
  "view": {"stroke": "#333", "strokeWidth": 1},
  "axis": {"grid": false, "domainColor": "#333", "tickColor": "#333", "tickSize": 3, "labelFontSize": 7, "labelColor": "#222", "labelPadding": 2, "labelFont": "Liberation Sans", "titleFont": "Liberation Sans", "titleFontSize": 8.5, "titleFontWeight": "normal", "titleColor": "#000", "titlePadding": 1, "labelFlush": false, "labelOverlap": false}
}
}
